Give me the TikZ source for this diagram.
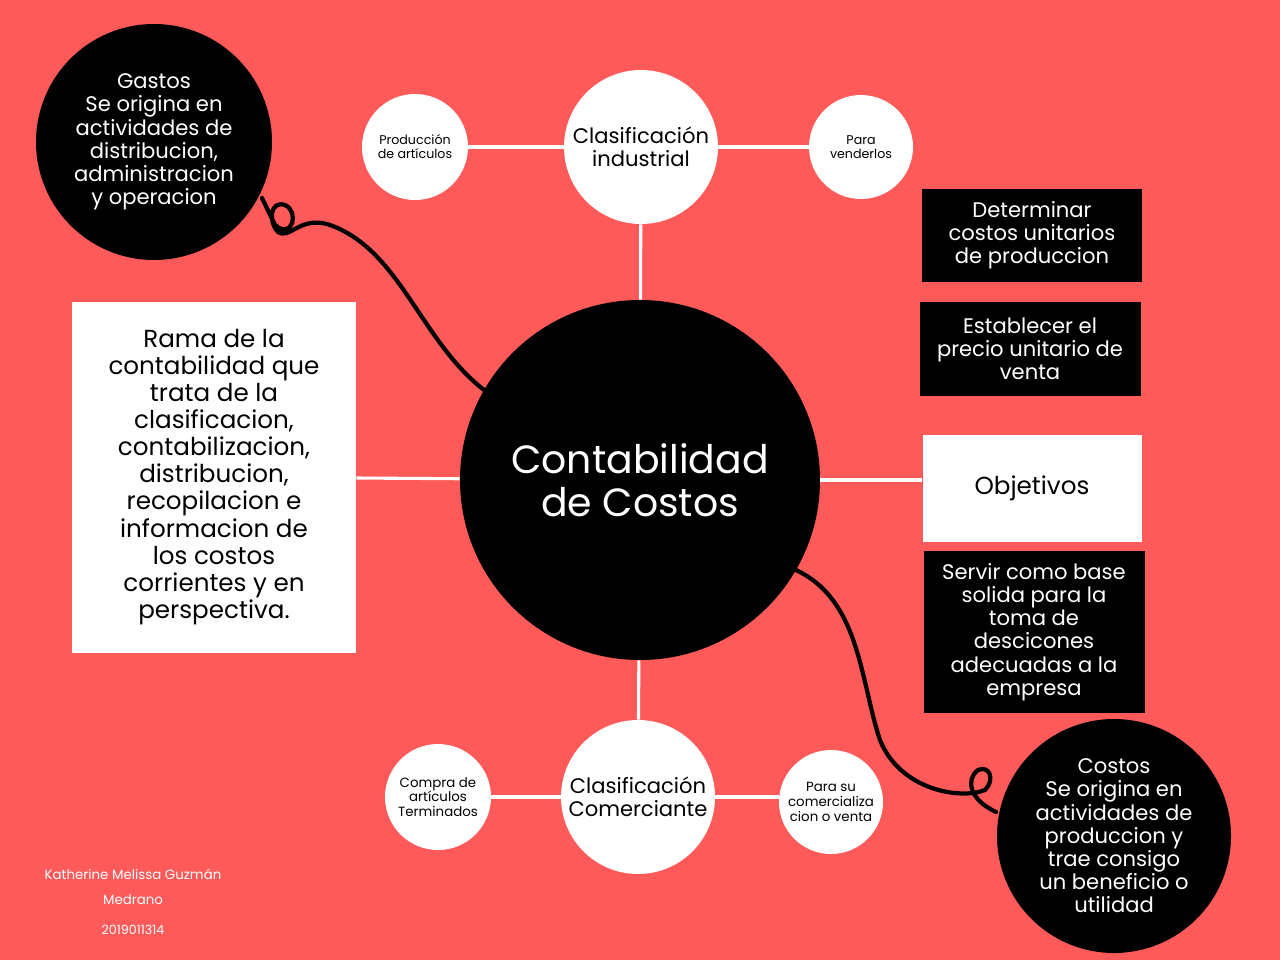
\documentclass[tikz,border=0pt]{standalone}
\usepackage{fontspec}
\setmainfont{Poppins}
\definecolor{bgred}{HTML}{FF5A5A}
\tikzset{
  bubble/.style={circle,fill=white,align=center,inner sep=0pt},
  darkball/.style={circle,fill=black,text=white,align=center,inner sep=0pt},
  darkbox/.style={rectangle,fill=black,text=white,align=center,inner sep=0pt},
  link/.style={white,line width=2.2pt},
  wire/.style={black,line width=3pt,line cap=round}
}
\newcommand{\fs}[1]{\fontsize{#1}{1.1\dimexpr#1pt\relax}\selectfont}
\begin{document}
\begin{tikzpicture}[x=0.025cm,y=-0.025cm]
    % background
    \fill[bgred] (0,0) rectangle (1280,960);

    % centre
    \node[darkball,minimum size=360*0.025cm,font=\fs{28}] (core) at (640,480) {Contabilidad\\de Costos};

    % industrial branch
    \node[bubble,minimum size=154*0.025cm,font=\fs{15}] (ind) at (641,147) {Clasificación\\industrial};
    \node[bubble,minimum size=106*0.025cm,font=\fs{9}] (prod) at (415,147) {Producción\\de artículos};
    \node[bubble,minimum size=104*0.025cm,font=\fs{9}] (vend) at (861,147) {Para\\venderlos};

    % comerciante branch
    \node[bubble,minimum size=154*0.025cm,font=\fs{15}] (com) at (638,797) {Clasificación\\Comerciante};
    \node[bubble,minimum size=106*0.025cm,font=\fs{9.5}] (compra) at (438,797) {Compra de\\artículos\\Terminados};
    \node[bubble,minimum size=104*0.025cm,font=\fs{9.5}] (venta) at (831,802) {Para su\\comercializa\\cion o venta};

    % definition and objectives
    \node[rectangle,fill=white,minimum width=284*0.025cm,minimum height=351*0.025cm,align=center,font=\fs{17.5}] (def) at (214,477)
        {Rama de la\\contabilidad  que\\trata de la\\clasificacion,\\contabilizacion,\\distribucion,\\recopilacion e\\informacion de\\los costos\\corrientes y en\\perspectiva.};
    \node[rectangle,fill=white,minimum width=219*0.025cm,minimum height=107*0.025cm,font=\fs{17.5}] (obj) at (1032,488) {Objetivos};
    \node[darkbox,minimum width=220*0.025cm,minimum height=93*0.025cm,font=\fs{15}] (obj1) at (1032,235) {Determinar\\costos unitarios\\de produccion};
    \node[darkbox,minimum width=221*0.025cm,minimum height=94*0.025cm,font=\fs{15}] (obj2) at (1030,349) {Establecer el\\precio unitario de\\venta};
    \node[darkbox,minimum width=221*0.025cm,minimum height=162*0.025cm,font=\fs{15}] (obj3) at (1034,632) {Servir como base\\solida para la\\toma de\\descicones\\adecuadas a la\\empresa};

    % gastos y costos
    \node[darkball,minimum size=236*0.025cm,font=\fs{15}] (gastos) at (154,142) {Gastos\\Se origina en\\actividades de\\distribucion,\\administracion\\y operacion};
    \node[darkball,minimum size=234*0.025cm,font=\fs{15}] (costos) at (1114,836) {Costos\\Se origina en\\actividades de\\produccion y\\trae consigo\\un beneficio o\\utilidad};

    % connections
    \draw[link] (prod) -- (ind);
    \draw[link] (ind) -- (vend);
    \draw[link] (ind) -- (core);
    \draw[link] (compra) -- (com);
    \draw[link] (com.east) -- (com.east -| venta.west);
    \draw[link] (core) -- (com);
    \draw[link] (def) -- (core);
    \draw[link] (core.east) -- (core.east -| obj.west);

    % hand-drawn wires
    \draw[wire] (core.150) .. controls (420,340) and (400,250) .. (330,225)
        .. controls (300,215) and (290,240) .. (278,232)
        .. controls (268,222) and (270,200) .. (285,205)
        .. controls (300,212) and (292,240) .. (275,225) -- (262,198);
    \draw[wire] (core.-30) .. controls (860,600) and (860,680) .. (880,740)
        .. controls (900,790) and (960,800) .. (985,790)
        .. controls (995,780) and (990,765) .. (978,770)
        .. controls (965,780) and (970,800) .. (996,812);

    % author
    \node[white,font=\fs{9.5}] (name1) at (133,874) {Katherine Melissa Guzmán};
    \node[white,font=\fs{9.5}] (name2) at (133,900) {Medrano};
    \node[white,font=\fs{9}] (code) at (133,930) {2019011314};
\end{tikzpicture}
\end{document}
